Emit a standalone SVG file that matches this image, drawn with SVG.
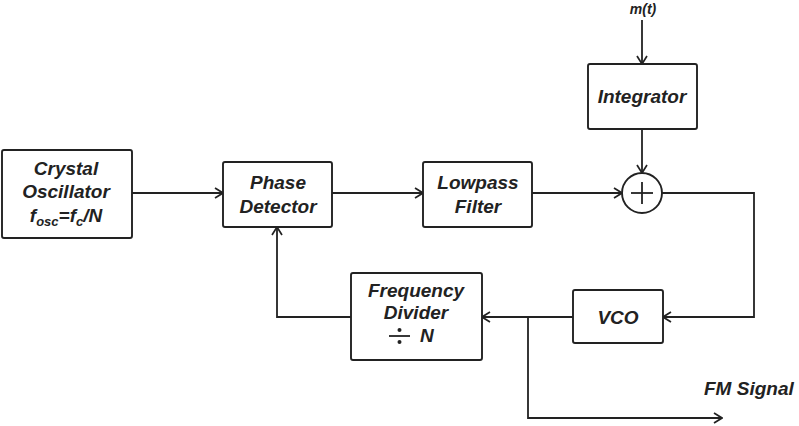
<svg xmlns="http://www.w3.org/2000/svg" width="799" height="426" viewBox="0 0 799 426">
<style>
.box{fill:#fff;stroke:#222;stroke-width:1.9}
.ln{fill:none;stroke:#222;stroke-width:1.8}
.t{font-family:"Liberation Sans",Arial,sans-serif;font-weight:bold;font-style:italic;font-size:19px;fill:#222;text-anchor:middle}
</style>
<defs>
<marker id="ar" viewBox="0 0 12 12" refX="11" refY="6" markerWidth="12" markerHeight="12" markerUnits="userSpaceOnUse" orient="auto">
<polyline points="3,1 11,6 3,11" fill="none" stroke="#222" stroke-width="1.7"/>
</marker>
</defs>
<rect width="799" height="426" fill="#fff"/>
<g id="connectors">
<line class="ln" x1="132" y1="193" x2="223" y2="193" marker-end="url(#ar)"/>
<line class="ln" x1="332" y1="193" x2="423" y2="193" marker-end="url(#ar)"/>
<line class="ln" x1="532" y1="193" x2="622" y2="193" marker-end="url(#ar)"/>
<line class="ln" x1="642" y1="20" x2="642" y2="64" marker-end="url(#ar)"/>
<line class="ln" x1="642" y1="129" x2="642" y2="173" marker-end="url(#ar)"/>
<polyline class="ln" points="662,193 754,193 754,317 663,317" marker-end="url(#ar)"/>
<line class="ln" x1="573" y1="317" x2="482" y2="317" marker-end="url(#ar)"/>
<polyline class="ln" points="528,317 528,418 722,418" marker-end="url(#ar)"/>
<polyline class="ln" points="351,317 277,317 277,227" marker-end="url(#ar)"/>
</g>
<g id="crystal">
<rect class="box" x="2" y="150" width="130" height="88" rx="2"/>
<text class="t" x="66" y="175">Crystal</text>
<text class="t" x="66" y="198">Oscillator</text>
<text class="t" x="66" y="222">f<tspan style="font-size:13px" dy="4">osc</tspan><tspan dy="-4">=f</tspan><tspan style="font-size:13px" dy="4">c</tspan><tspan dy="-4">/N</tspan></text>
</g>
<g id="phase">
<rect class="box" x="223" y="162" width="109" height="65" rx="2"/>
<text class="t" x="278" y="189">Phase</text>
<text class="t" x="278" y="213">Detector</text>
</g>
<g id="lowpass">
<rect class="box" x="423" y="162" width="109" height="65" rx="2"/>
<text class="t" x="478" y="189">Lowpass</text>
<text class="t" x="478" y="213">Filter</text>
</g>
<g id="mt">
<text class="t" x="643" y="14" style="font-size:14px">m(t)</text>
</g>
<g id="integrator">
<rect class="box" x="588" y="64" width="109" height="65" rx="2"/>
<text class="t" x="642" y="103">Integrator</text>
</g>
<g id="summer">
<circle class="box" cx="642" cy="193" r="20"/>
<line class="ln" x1="642" y1="182" x2="642" y2="204"/>
<line class="ln" x1="631" y1="193" x2="653" y2="193"/>
</g>
<g id="vco">
<rect class="box" x="573" y="290" width="90" height="53" rx="2"/>
<text class="t" x="618" y="324">VCO</text>
</g>
<g id="divider">
<rect class="box" x="351" y="273" width="131" height="87" rx="2"/>
<text class="t" x="416" y="297">Frequency</text>
<text class="t" x="416" y="319">Divider</text>
<text class="t" x="420" y="342" style="text-anchor:start">N</text>
<line class="ln" x1="389" y1="336" x2="410" y2="336" stroke-width="2"/>
<circle cx="399.5" cy="330" r="2" fill="#222"/>
<circle cx="399.5" cy="342" r="2" fill="#222"/>
</g>
<g id="fm">
<text class="t" x="704" y="395" style="text-anchor:start">FM Signal</text>
</g>
</svg>
